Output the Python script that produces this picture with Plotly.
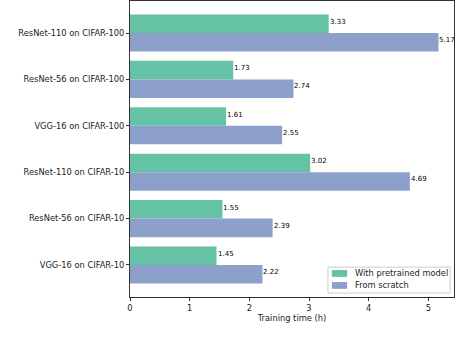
import plotly.graph_objects as go

categories = ["ResNet-110 on CIFAR-100", "ResNet-56 on CIFAR-100", "VGG-16 on CIFAR-100",
              "ResNet-110 on CIFAR-10", "ResNet-56 on CIFAR-10", "VGG-16 on CIFAR-10"]
pretrained = [3.33, 1.73, 1.61, 3.02, 1.55, 1.45]
scratch = [5.17, 2.74, 2.55, 4.69, 2.39, 2.22]
series_names = ["With pretrained model", "From scratch"]
colors = ["#66c2a5", "#8da0cb"]
x_ticks = [0, 1, 2, 3, 4, 5]

FONT = "DejaVu Sans"
fig = go.Figure()
for name, vals, color in [(series_names[0], pretrained, colors[0]),
                          (series_names[1], scratch, colors[1])]:
    fig.add_trace(go.Bar(
        y=categories, x=vals, name=name, orientation="h",
        marker=dict(color=color, line=dict(width=0)),
        showlegend=False,
    ))

# value labels at the end of each bar
for vals, shift in [(pretrained, 11), (scratch, -7)]:
    for cat, v in zip(categories, vals):
        fig.add_annotation(x=v, y=cat, text=f"{v:.2f}", showarrow=False,
                           xanchor="left", yanchor="middle", xshift=-1, yshift=shift,
                           font=dict(family=FONT, size=7, color="black"))

# legend (drawn in paper coordinates)
fig.add_shape(type="rect", xref="paper", yref="paper", x0=0.611, x1=0.988, y0=0.0135, y1=0.101,
              line=dict(color="#cccccc", width=1), fillcolor="white", layer="above")
for i, (name, color) in enumerate(zip(series_names, colors)):
    yc = 0.0795 - i * 0.0405
    fig.add_shape(type="rect", xref="paper", yref="paper", x0=0.623, x1=0.670,
                  y0=yc - 0.0115, y1=yc + 0.0115, line=dict(width=0), fillcolor=color, layer="above")
    fig.add_annotation(xref="paper", yref="paper", x=0.689, y=yc, text=name, showarrow=False,
                       xanchor="left", yanchor="middle",
                       font=dict(family=FONT, size=8.3, color="#222"))

fig.update_layout(
    width=474, height=348,
    margin=dict(l=130, r=20, t=1, b=51),
    paper_bgcolor="white", plot_bgcolor="white",
    barmode="group", bargap=0.2, bargroupgap=0,
    font=dict(family=FONT, size=8.3, color="#222"),
    showlegend=False,
)
fig.update_xaxes(range=[0, 5.43], tickvals=x_ticks, showgrid=False, zeroline=False,
                 showline=True, linecolor="#333", linewidth=1, mirror=True,
                 ticks="outside", ticklen=3, tickcolor="#333",
                 title=dict(text="Training time (h)", font=dict(family=FONT, size=8.3), standoff=1))
fig.update_yaxes(categoryorder="array", categoryarray=categories,
                 range=[5.69, -0.69], showgrid=False, zeroline=False,
                 showline=True, linecolor="#333", linewidth=1, mirror=True,
                 ticks="outside", ticklen=3, tickcolor="#333")

fig.write_html("out.html")
